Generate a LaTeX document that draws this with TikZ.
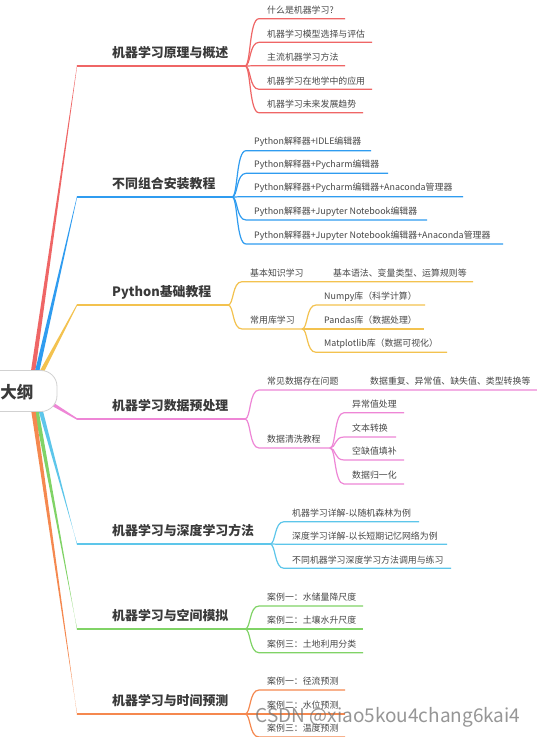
\documentclass[tikz,border=0pt]{standalone}
\usepackage{fontspec}
\newfontfamily\cjk{Noto Sans CJK SC}
\usetikzlibrary{calc}
\definecolor{cR}{HTML}{EF6666}
\definecolor{cB}{HTML}{2F9CF0}
\definecolor{cY}{HTML}{F3C24F}
\definecolor{cP}{HTML}{EE86D6}
\definecolor{cC}{HTML}{5DC6EA}
\definecolor{cG}{HTML}{80D366}
\definecolor{cO}{HTML}{F5884F}
\definecolor{txt}{HTML}{3A3A3A}
\definecolor{ktxt}{HTML}{474747}
\tikzset{
  kidline/.style={line width=1.2pt},
  mainline/.style={line width=1.5pt},
  kidtext/.style={font=\cjk\fontsize{8.9}{10}\selectfont, text=ktxt, inner sep=0pt},
  maintext/.style={font=\cjk\bfseries\fontsize{12.9}{14}\selectfont, text=txt, inner sep=0pt, anchor=west},
  rootbox/.style={draw=black!18, line width=0.8pt, fill=white, rounded corners=16pt, minimum width=82pt, minimum height=41pt, inner sep=0pt},
  roottext/.style={font=\cjk\bfseries\fontsize{16.5}{18}\selectfont, text=txt, inner sep=0pt},
  wmark/.style={font=\cjk\fontsize{19}{21}\selectfont, text=black!55, opacity=0.75, inner sep=0pt}
}
% #1 fork name, #2 fx, #3 fy, #4 cy, #5 endx, #6 color, #7 node name, #8 text
\newcommand\kid[8]{%
  \coordinate (#7e) at (#5,#4);
  \draw[kidline,#6] (#1) .. controls (#2+6,#3) and (#2+4,#4) .. (#2+14,#4) -- (#7e);
  \node[kidtext,anchor=west] (#7) at (#2+22,#4-8.5) {#8};
}
% #1 root point, #2 elbow, #3 color, #4 offset at root
\newcommand\trunk[4]{%
  \fill[#3] ($(#1)-(#4)$) -- ($(#2)+(0,-0.8)$) -- ($(#2)+(0,0.8)$) -- ($(#1)+(#4)$) -- cycle;
}
\begin{document}
\begin{tikzpicture}[x=1pt,y=-1pt]
\useasboundingbox (0,0) rectangle (537,737);
\begin{scope}
\clip (0,0) rectangle (537,737);
\fill[white] (0,0) rectangle (537,737);

% root anchor points
\coordinate (rR) at (33,372);
\coordinate (rB) at (37,372);
\coordinate (rY) at (41,373);
\coordinate (rP) at (49,402);
\coordinate (rC) at (40,408);
\coordinate (rG) at (36,408);
\coordinate (rO) at (33,408);
% elbows
\coordinate (eR) at (77,66);
\coordinate (eB) at (77,197);
\coordinate (eY) at (77,305);
\coordinate (eP) at (77,419);
\coordinate (eC) at (77,544);
\coordinate (eG) at (77,629);
\coordinate (eO) at (77,714);
% forks
\coordinate (fR) at (245,66);
\coordinate (fB) at (232,197);
\coordinate (fY) at (228,305);
\coordinate (fP) at (245,419);
\coordinate (fC) at (270,544);
\coordinate (fG) at (245,629);
\coordinate (fO) at (245,714);

% trunks
\trunk{rR}{eR}{cR}{2.2,0}
\trunk{rB}{eB}{cB}{2.2,0}
\trunk{rY}{eY}{cY}{2.4,0}
\trunk{rP}{eP}{cP}{0,2.2}
\trunk{rC}{eC}{cC}{2.2,0}
\trunk{rG}{eG}{cG}{2.2,0}
\trunk{rO}{eO}{cO}{2.2,0}
\draw[mainline,cR] (eR) -- (fR);
\draw[mainline,cB] (eB) -- (fB);
\draw[mainline,cY] (eY) -- (fY);
\draw[mainline,cP] (eP) -- (fP);
\draw[mainline,cC] (eC) -- (fC);
\draw[mainline,cG] (eG) -- (fG);
\draw[mainline,cO] (eO) -- (fO);

% main labels
\node[maintext] (mR) at (112,53) {机器学习原理与概述};
\node[maintext] (mB) at (112,184) {不同组合安装教程};
\node[maintext] (mY) at (112,292) {Python基础教程};
\node[maintext] (mP) at (112,406) {机器学习数据预处理};
\node[maintext] (mC) at (112,531) {机器学习与深度学习方法};
\node[maintext] (mG) at (112,616) {机器学习与空间模拟};
\node[maintext] (mO) at (112,701) {机器学习与时间预测};

% red kids
\kid{fR}{245}{66}{18.7}{345}{cR}{r1}{什么是机器学习?}
\kid{fR}{245}{66}{42.3}{372}{cR}{r2}{机器学习模型选择与评估}
\kid{fR}{245}{66}{65.7}{345}{cR}{r3}{主流机器学习方法}
\kid{fR}{245}{66}{89.3}{372}{cR}{r4}{机器学习在地学中的应用}
\kid{fR}{245}{66}{112.7}{363}{cR}{r5}{机器学习未来发展趋势}

% blue kids
\kid{fB}{232}{197}{150.7}{371}{cB}{b1}{Python解释器+IDLE编辑器}
\kid{fB}{232}{197}{173.3}{388}{cB}{b2}{Python解释器+Pycharm编辑器}
\kid{fB}{232}{197}{196.7}{463}{cB}{b3}{Python解释器+Pycharm编辑器+Anaconda管理器}
\kid{fB}{232}{197}{220}{427}{cB}{b4}{Python解释器+Jupyter Notebook编辑器}
\kid{fB}{232}{197}{244}{503}{cB}{b5}{Python解释器+Jupyter Notebook编辑器+Anaconda管理器}

% yellow kids
\kid{fY}{228}{305}{281.7}{473}{cY}{y1}{基本知识学习}
\node[kidtext,anchor=west] (y1a) at (333,273.2) {基本语法、变量类型、运算规则等};
\coordinate (fY2) at (302,329);
\kid{fY}{228}{305}{329}{302}{cY}{y2}{常用库学习}
\kid{fY2}{302}{329}{305}{425}{cY}{y21}{Numpy库（科学计算）}
\kid{fY2}{302}{329}{329}{424}{cY}{y22}{Pandas库（数据处理）}
\kid{fY2}{302}{329}{352.3}{447}{cY}{y23}{Matplotlib库（数据可视化）}

% pink kids
\kid{fP}{245}{419}{390}{537}{cP}{p1}{常见数据存在问题}
\node[kidtext,anchor=west] (p1a) at (370,381.5) {数据重复、异常值、缺失值、类型转换等};
\coordinate (fP2) at (330,448);
\kid{fP}{245}{419}{448}{330}{cP}{p2}{数据清洗教程}
\kid{fP2}{330}{448}{412.7}{404}{cP}{p21}{异常值处理}
\kid{fP2}{330}{448}{437}{396}{cP}{p22}{文本转换}
\kid{fP2}{330}{448}{460}{404}{cP}{p23}{空缺值填补}
\kid{fP2}{330}{448}{484}{404}{cP}{p24}{数据归一化}

% cyan kids
\kid{fC}{270}{544}{521.7}{419}{cC}{c1}{机器学习详解-以随机森林为例}
\kid{fC}{270}{544}{544.3}{447}{cC}{c2}{深度学习详解-以长短期记忆网络为例}
\kid{fC}{270}{544}{568.3}{451}{cC}{c3}{不同机器学习深度学习方法调用与练习}

% green kids
\kid{fG}{245}{629}{606}{363}{cG}{g1}{案例一：水储量降尺度}
\kid{fG}{245}{629}{629}{363}{cG}{g2}{案例二：土壤水升尺度}
\kid{fG}{245}{629}{652.7}{363}{cG}{g3}{案例三：土地利用分类}

% orange kids
\kid{fO}{245}{714}{690}{345}{cO}{o1}{案例一：径流预测}
\kid{fO}{245}{714}{714}{345}{cO}{o2}{案例二：水位预测}
\kid{fO}{245}{714}{737}{345}{cO}{o3}{案例三：温度预测}

% root
\node[rootbox] (root) at (16,391) {};
\node[roottext] (roott) at (17,392) {大纲};

% watermark
\node[wmark] (wm) at (388,717) {CSDN @xiao5kou4chang6kai4};
\end{scope}
\end{tikzpicture}
\end{document}
